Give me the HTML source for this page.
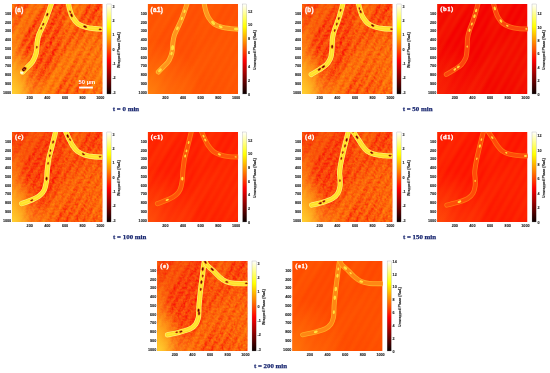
<!DOCTYPE html>
<html lang="en"><head><meta charset="utf-8"><title>Wrapped and unwrapped phase maps</title>
<style>html,body{margin:0;padding:0;background:#fff}body{width:550px;height:373px;overflow:hidden}svg{display:block}.tk{font-family:"Liberation Sans",Arial,sans-serif;font-size:3.7px;fill:#1c1c1c;font-weight:bold;stroke:#1c1c1c;stroke-width:0.1px}.cl{font-family:"Liberation Sans",Arial,sans-serif;font-size:3.4px;fill:#222;font-weight:bold;stroke:#222;stroke-width:0.1px}.ls{font-family:"Liberation Sans",Arial,sans-serif;font-size:6.3px;fill:#fff;font-weight:bold;letter-spacing:0.35px;stroke:#fff;stroke-width:0.3px}.lf{font-family:"Liberation Serif","Times New Roman",serif;font-size:6.6px;fill:#fff;font-weight:bold;stroke:#fff;stroke-width:0.3px;letter-spacing:0.55px}.cap{font-family:"Liberation Serif","Times New Roman",serif;font-size:6.9px;fill:#1c2a72;font-weight:bold;stroke:#1c2a72;stroke-width:0.25px}.sb{font-family:"Liberation Sans",Arial,sans-serif;font-size:5.8px;fill:#fff;font-weight:bold}</style></head><body>
<svg width="550" height="373" viewBox="0 0 550 373">
<defs>
<linearGradient id="hot" x1="0" y1="1" x2="0" y2="0"><stop offset="0" stop-color="#0a0000"/><stop offset="0.375" stop-color="#ff0000"/><stop offset="0.75" stop-color="#ffff00"/><stop offset="1" stop-color="#ffffff"/></linearGradient>
<pattern id="st" width="7.8" height="90" patternUnits="userSpaceOnUse" patternTransform="rotate(30)"><rect x="0" y="0" width="3.6" height="90" fill="#ffa414"/></pattern>
<filter id="bl" x="-10%" y="-10%" width="120%" height="120%"><feGaussianBlur stdDeviation="0.9"/></filter>
<filter id="nz" x="0" y="0" width="100%" height="100%" color-interpolation-filters="sRGB"><feTurbulence type="fractalNoise" baseFrequency="0.42" numOctaves="2" seed="3" result="t"/><feColorMatrix in="t" type="matrix" values="0 0 0 0 0.985  0.66 0 0 0 -0.13  0 0 0 0 0.03  0 0 0 0 1"/></filter>
<filter id="sw" x="0" y="0" width="100%" height="100%" color-interpolation-filters="sRGB"><feTurbulence type="fractalNoise" baseFrequency="0.06 0.012" numOctaves="1" seed="11" result="t"/><feColorMatrix in="t" type="matrix" values="0 0 0 0 1  0 0 0 0 0.66  0 0 0 0 0.05  4 0 0 0 -1.6"/></filter>
<radialGradient id="ga" cx="0" cy="1" r="0.7"><stop offset="0" stop-color="#ffa81c" stop-opacity="1"/><stop offset="0.4" stop-color="#ffa81c" stop-opacity="0.65"/><stop offset="1" stop-color="#ffa81c" stop-opacity="0"/></radialGradient>
<clipPath id="ca"><rect x="0" y="0" width="90.4" height="90.0"/></clipPath>
<radialGradient id="ga1" cx="0" cy="1" r="0.6"><stop offset="0" stop-color="#ff8a10" stop-opacity="0.8"/><stop offset="0.4" stop-color="#ff8a10" stop-opacity="0.4"/><stop offset="1" stop-color="#ff8a10" stop-opacity="0"/></radialGradient>
<clipPath id="ca1"><rect x="0" y="0" width="90.4" height="90.0"/></clipPath>
<radialGradient id="gb" cx="0" cy="1" r="0.7"><stop offset="0" stop-color="#ffa81c" stop-opacity="1"/><stop offset="0.4" stop-color="#ffa81c" stop-opacity="0.65"/><stop offset="1" stop-color="#ffa81c" stop-opacity="0"/></radialGradient>
<clipPath id="cb"><rect x="0" y="0" width="90.4" height="90.0"/></clipPath>
<radialGradient id="gb1" cx="0" cy="1" r="0.6"><stop offset="0" stop-color="#fa2606" stop-opacity="0.8"/><stop offset="0.4" stop-color="#fa2606" stop-opacity="0.4"/><stop offset="1" stop-color="#fa2606" stop-opacity="0"/></radialGradient>
<clipPath id="cb1"><rect x="0" y="0" width="90.4" height="90.0"/></clipPath>
<radialGradient id="gc" cx="0" cy="1" r="0.7"><stop offset="0" stop-color="#ffa81c" stop-opacity="1"/><stop offset="0.4" stop-color="#ffa81c" stop-opacity="0.65"/><stop offset="1" stop-color="#ffa81c" stop-opacity="0"/></radialGradient>
<clipPath id="cc"><rect x="0" y="0" width="90.4" height="90.0"/></clipPath>
<radialGradient id="gc1" cx="0" cy="1" r="0.6"><stop offset="0" stop-color="#ff560c" stop-opacity="0.8"/><stop offset="0.4" stop-color="#ff560c" stop-opacity="0.4"/><stop offset="1" stop-color="#ff560c" stop-opacity="0"/></radialGradient>
<clipPath id="cc1"><rect x="0" y="0" width="90.4" height="90.0"/></clipPath>
<radialGradient id="gd" cx="0" cy="1" r="0.7"><stop offset="0" stop-color="#ffa81c" stop-opacity="1"/><stop offset="0.4" stop-color="#ffa81c" stop-opacity="0.65"/><stop offset="1" stop-color="#ffa81c" stop-opacity="0"/></radialGradient>
<clipPath id="cd"><rect x="0" y="0" width="90.4" height="90.0"/></clipPath>
<radialGradient id="gd1" cx="0" cy="1" r="0.6"><stop offset="0" stop-color="#ff520c" stop-opacity="0.8"/><stop offset="0.4" stop-color="#ff520c" stop-opacity="0.4"/><stop offset="1" stop-color="#ff520c" stop-opacity="0"/></radialGradient>
<clipPath id="cd1"><rect x="0" y="0" width="90.4" height="90.0"/></clipPath>
<radialGradient id="ge" cx="0" cy="1" r="0.7"><stop offset="0" stop-color="#ffa81c" stop-opacity="1"/><stop offset="0.4" stop-color="#ffa81c" stop-opacity="0.65"/><stop offset="1" stop-color="#ffa81c" stop-opacity="0"/></radialGradient>
<clipPath id="ce"><rect x="0" y="0" width="90.4" height="90.0"/></clipPath>
<radialGradient id="ge1" cx="0" cy="1" r="0.6"><stop offset="0" stop-color="#ff7c0c" stop-opacity="0.8"/><stop offset="0.4" stop-color="#ff7c0c" stop-opacity="0.4"/><stop offset="1" stop-color="#ff7c0c" stop-opacity="0"/></radialGradient>
<clipPath id="ce1"><rect x="0" y="0" width="90.4" height="90.0"/></clipPath>
<radialGradient id="le" cx="0" cy="0" r="1" gradientTransform="translate(0 0.88) scale(0.2 0.75)"><stop offset="0" stop-color="#ffcc2a" stop-opacity="0.95"/><stop offset="0.4" stop-color="#ffb21e" stop-opacity="0.6"/><stop offset="1" stop-color="#ff9a14" stop-opacity="0"/></radialGradient>
<radialGradient id="bc" cx="0" cy="1" r="0.44"><stop offset="0" stop-color="#ffd232" stop-opacity="1"/><stop offset="0.45" stop-color="#ffb020" stop-opacity="0.55"/><stop offset="1" stop-color="#ff9a14" stop-opacity="0"/></radialGradient>
<linearGradient id="tl" x1="0" y1="0" x2="0.75" y2="0.75"><stop offset="0" stop-color="#f42c08" stop-opacity="0.5"/><stop offset="0.55" stop-color="#f42c08" stop-opacity="0.18"/><stop offset="1" stop-color="#f42c08" stop-opacity="0"/></linearGradient>
</defs>
<rect width="550" height="373" fill="#ffffff"/>
<g transform="translate(12.0 4.0)">
<g clip-path="url(#ca)">
<rect width="90.4" height="90.0" filter="url(#nz)"/>
<g filter="url(#bl)" opacity="0.54"><rect x="-10" y="-10" width="110.4" height="110.0" fill="url(#st)"/></g>
<g transform="rotate(30 45 45)" opacity="0.51"><rect x="-30" y="-30" width="150" height="150" filter="url(#sw)"/></g>
<rect width="90.4" height="90.0" fill="url(#tl)" opacity="0.35"/>
<rect width="90.4" height="90.0" fill="url(#le)"/>
<rect width="90.4" height="90.0" fill="url(#bc)"/>
<g transform="scale(0.24236 0.24129)" fill="none" stroke-linecap="round" stroke-linejoin="round">
<path d="M164.0 -6.0C162.0 0.0 156.2 18.2 152.0 30.0C147.8 41.8 143.8 53.3 139.0 65.0C134.2 76.7 127.8 89.2 123.0 100.0C118.2 110.8 113.2 120.0 110.0 130.0C106.8 140.0 105.3 150.0 104.0 160.0C102.7 170.0 103.3 180.8 102.0 190.0C100.7 199.2 99.0 206.7 96.0 215.0C93.0 223.3 89.5 232.2 84.0 240.0C78.5 247.8 69.7 255.0 63.0 262.0C56.3 269.0 47.2 278.7 44.0 282.0" stroke="#fff07a" stroke-width="21.5"/>
<path d="M164.0 -6.0C162.0 0.0 156.2 18.2 152.0 30.0C147.8 41.8 143.8 53.3 139.0 65.0C134.2 76.7 127.8 89.2 123.0 100.0C118.2 110.8 113.2 120.0 110.0 130.0C106.8 140.0 105.3 150.0 104.0 160.0C102.7 170.0 103.3 180.8 102.0 190.0C100.7 199.2 99.0 206.7 96.0 215.0C93.0 223.3 89.5 232.2 84.0 240.0C78.5 247.8 69.7 255.0 63.0 262.0C56.3 269.0 47.2 278.7 44.0 282.0" stroke="#ffe022" stroke-width="16.5"/>
<path d="M164.0 -6.0C162.0 0.0 156.2 18.2 152.0 30.0C147.8 41.8 143.8 53.3 139.0 65.0C134.2 76.7 127.8 89.2 123.0 100.0C118.2 110.8 113.2 120.0 110.0 130.0C106.8 140.0 105.3 150.0 104.0 160.0C102.7 170.0 103.3 180.8 102.0 190.0C100.7 199.2 99.0 206.7 96.0 215.0C93.0 223.3 89.5 232.2 84.0 240.0C78.5 247.8 69.7 255.0 63.0 262.0C56.3 269.0 47.2 278.7 44.0 282.0" stroke="#ffea50" stroke-width="6" opacity="0.6"/>
<path d="M232.0 -6.0C233.3 0.0 236.7 19.3 240.0 30.0C243.3 40.7 246.3 49.2 252.0 58.0C257.7 66.8 265.2 76.7 274.0 83.0C282.8 89.3 294.0 92.8 305.0 96.0C316.0 99.2 327.5 100.5 340.0 102.0C352.5 103.5 373.3 104.5 380.0 105.0" stroke="#fff07a" stroke-width="21.5"/>
<path d="M232.0 -6.0C233.3 0.0 236.7 19.3 240.0 30.0C243.3 40.7 246.3 49.2 252.0 58.0C257.7 66.8 265.2 76.7 274.0 83.0C282.8 89.3 294.0 92.8 305.0 96.0C316.0 99.2 327.5 100.5 340.0 102.0C352.5 103.5 373.3 104.5 380.0 105.0" stroke="#ffe022" stroke-width="16.5"/>
<path d="M232.0 -6.0C233.3 0.0 236.7 19.3 240.0 30.0C243.3 40.7 246.3 49.2 252.0 58.0C257.7 66.8 265.2 76.7 274.0 83.0C282.8 89.3 294.0 92.8 305.0 96.0C316.0 99.2 327.5 100.5 340.0 102.0C352.5 103.5 373.3 104.5 380.0 105.0" stroke="#ffea50" stroke-width="6" opacity="0.6"/>
<ellipse cx="145.7" cy="43.8" rx="6.2" ry="3.1" transform="rotate(110 145.7 43.8)" fill="#3a0404" stroke="#d8240a" stroke-width="2"/>
<ellipse cx="128.9" cy="83.6" rx="5.3" ry="2.7" transform="rotate(115 128.9 83.6)" fill="#3a0404" stroke="#d8240a" stroke-width="2"/>
<ellipse cx="120.9" cy="100.9" rx="4.3" ry="2.1" transform="rotate(113 120.9 100.9)" fill="#3a0404" stroke="#d8240a" stroke-width="2"/>
<ellipse cx="102.4" cy="178.7" rx="4.5" ry="2.2" transform="rotate(94 102.4 178.7)" fill="#3a0404" stroke="#d8240a" stroke-width="2"/>
<ellipse cx="240.1" cy="32.1" rx="4.6" ry="2.3" transform="rotate(67 240.1 32.1)" fill="#3a0404" stroke="#d8240a" stroke-width="2"/>
<ellipse cx="245.9" cy="46.8" rx="7.2" ry="3.6" transform="rotate(67 245.9 46.8)" fill="#3a0404" stroke="#d8240a" stroke-width="2"/>
<ellipse cx="301.5" cy="94.0" rx="7.3" ry="3.6" transform="rotate(23 301.5 94.0)" fill="#3a0404" stroke="#d8240a" stroke-width="2"/>
<ellipse cx="363.5" cy="105.3" rx="5.1" ry="2.5" transform="rotate(4 363.5 105.3)" fill="#3a0404" stroke="#d8240a" stroke-width="2"/>
<ellipse cx="50" cy="270" rx="10" ry="7" transform="rotate(-45 50 270)" fill="#2a0303" stroke="#e0300c" stroke-width="2.5"/>
<ellipse cx="50" cy="270" rx="4" ry="3" fill="#ff5a10"/>
<ellipse cx="41" cy="285" rx="7" ry="5" fill="#fffbe0"/>
</g>
</g>
<text class="ls" x="2.9" y="7.5">(a)</text>
<rect x="67.1" y="82.6" width="13.8" height="1.9" fill="#fff"/>
<text class="sb" x="74.9" y="79.7" text-anchor="middle">50 µm</text>
<text class="tk" x="-0.9" y="10.7" text-anchor="end">100</text>
<text class="tk" x="-0.9" y="19.5" text-anchor="end">200</text>
<text class="tk" x="-0.9" y="28.3" text-anchor="end">300</text>
<text class="tk" x="-0.9" y="37.1" text-anchor="end">400</text>
<text class="tk" x="-0.9" y="45.8" text-anchor="end">500</text>
<text class="tk" x="-0.9" y="54.6" text-anchor="end">600</text>
<text class="tk" x="-0.9" y="63.4" text-anchor="end">700</text>
<text class="tk" x="-0.9" y="72.2" text-anchor="end">800</text>
<text class="tk" x="-0.9" y="81.0" text-anchor="end">900</text>
<text class="tk" x="-0.9" y="89.8" text-anchor="end">1000</text>
<text class="tk" x="17.7" y="95.0" text-anchor="middle">200</text>
<text class="tk" x="35.3" y="95.0" text-anchor="middle">400</text>
<text class="tk" x="53.0" y="95.0" text-anchor="middle">600</text>
<text class="tk" x="70.6" y="95.0" text-anchor="middle">800</text>
<text class="tk" x="88.3" y="95.0" text-anchor="middle">1000</text>
<rect x="94.9" y="0" width="4.2" height="90.0" fill="url(#hot)" stroke="#8a8a8a" stroke-width="0.25"/>
<text class="tk" x="100.4" y="89.6">-3</text>
<text class="tk" x="100.4" y="75.2">-2</text>
<text class="tk" x="100.4" y="60.9">-1</text>
<text class="tk" x="100.4" y="46.6">0</text>
<text class="tk" x="100.4" y="32.3">1</text>
<text class="tk" x="100.4" y="18.0">2</text>
<text class="tk" x="100.4" y="3.6">3</text>
<text class="cl" transform="translate(108.3 46.0) rotate(-90)" text-anchor="middle">Wrapped Phase (Rad.)</text>
</g>
<g transform="translate(147.7 4.0)">
<g clip-path="url(#ca1)">
<rect width="90.4" height="90.0" fill="#ff4e04"/>
<g filter="url(#bl)" opacity="0.07"><rect x="-10" y="-10" width="110.4" height="110.0" fill="url(#st)"/></g>
<g transform="rotate(30 45 45)" opacity="0.09"><rect x="-30" y="-30" width="150" height="150" filter="url(#sw)"/></g>
<rect width="90.4" height="90.0" fill="url(#ga1)"/>
<g transform="scale(0.24236 0.24129)" fill="none" stroke-linecap="round" stroke-linejoin="round">
<path d="M164.0 -6.0C162.0 0.0 156.2 18.2 152.0 30.0C147.8 41.8 143.8 53.3 139.0 65.0C134.2 76.7 127.8 89.2 123.0 100.0C118.2 110.8 113.2 120.0 110.0 130.0C106.8 140.0 105.3 150.0 104.0 160.0C102.7 170.0 103.3 180.8 102.0 190.0C100.7 199.2 99.0 206.7 96.0 215.0C93.0 223.3 89.5 232.2 84.0 240.0C78.5 247.8 69.7 255.0 63.0 262.0C56.3 269.0 47.2 278.7 44.0 282.0" stroke="#ffc033" stroke-width="20.5" opacity="0.95"/>
<path d="M164.0 -6.0C162.0 0.0 156.2 18.2 152.0 30.0C147.8 41.8 143.8 53.3 139.0 65.0C134.2 76.7 127.8 89.2 123.0 100.0C118.2 110.8 113.2 120.0 110.0 130.0C106.8 140.0 105.3 150.0 104.0 160.0C102.7 170.0 103.3 180.8 102.0 190.0C100.7 199.2 99.0 206.7 96.0 215.0C93.0 223.3 89.5 232.2 84.0 240.0C78.5 247.8 69.7 255.0 63.0 262.0C56.3 269.0 47.2 278.7 44.0 282.0" stroke="#ff951d" stroke-width="14"/>
<path d="M232.0 -6.0C233.3 0.0 236.7 19.3 240.0 30.0C243.3 40.7 246.3 49.2 252.0 58.0C257.7 66.8 265.2 76.7 274.0 83.0C282.8 89.3 294.0 92.8 305.0 96.0C316.0 99.2 327.5 100.5 340.0 102.0C352.5 103.5 373.3 104.5 380.0 105.0" stroke="#ffc033" stroke-width="20.5" opacity="0.95"/>
<path d="M232.0 -6.0C233.3 0.0 236.7 19.3 240.0 30.0C243.3 40.7 246.3 49.2 252.0 58.0C257.7 66.8 265.2 76.7 274.0 83.0C282.8 89.3 294.0 92.8 305.0 96.0C316.0 99.2 327.5 100.5 340.0 102.0C352.5 103.5 373.3 104.5 380.0 105.0" stroke="#ff951d" stroke-width="14"/>
<ellipse cx="151.9" cy="30.3" rx="7.3" ry="4.3" transform="rotate(110 151.9 30.3)" fill="#ffe640" opacity="0.95"/>
<ellipse cx="140.8" cy="60.1" rx="7.2" ry="4.2" transform="rotate(110 140.8 60.1)" fill="#ffe640" opacity="0.95"/>
<ellipse cx="122.6" cy="100.8" rx="8.2" ry="4.8" transform="rotate(113 122.6 100.8)" fill="#ffe640" opacity="0.95"/>
<ellipse cx="102.6" cy="180.4" rx="11.0" ry="6.4" transform="rotate(94 102.6 180.4)" fill="#ffe640" opacity="0.95"/>
<ellipse cx="98.3" cy="205.4" rx="7.5" ry="4.4" transform="rotate(103 98.3 205.4)" fill="#ffe640" opacity="0.95"/>
<ellipse cx="50.6" cy="275.1" rx="9.7" ry="5.7" transform="rotate(134 50.6 275.1)" fill="#ffe640" opacity="0.95"/>
<ellipse cx="269.9" cy="78.3" rx="10.0" ry="5.9" transform="rotate(49 269.9 78.3)" fill="#ffe640" opacity="0.95"/>
<ellipse cx="301.2" cy="94.4" rx="8.5" ry="5.0" transform="rotate(23 301.2 94.4)" fill="#ffe640" opacity="0.95"/>
<ellipse cx="365.3" cy="103.9" rx="9.5" ry="5.6" transform="rotate(4 365.3 103.9)" fill="#ffe640" opacity="0.95"/>
</g>
</g>
<text class="ls" x="2.9" y="7.5">(a1)</text>
<text class="tk" x="-0.9" y="10.7" text-anchor="end">100</text>
<text class="tk" x="-0.9" y="19.5" text-anchor="end">200</text>
<text class="tk" x="-0.9" y="28.3" text-anchor="end">300</text>
<text class="tk" x="-0.9" y="37.1" text-anchor="end">400</text>
<text class="tk" x="-0.9" y="45.8" text-anchor="end">500</text>
<text class="tk" x="-0.9" y="54.6" text-anchor="end">600</text>
<text class="tk" x="-0.9" y="63.4" text-anchor="end">700</text>
<text class="tk" x="-0.9" y="72.2" text-anchor="end">800</text>
<text class="tk" x="-0.9" y="81.0" text-anchor="end">900</text>
<text class="tk" x="-0.9" y="89.8" text-anchor="end">1000</text>
<text class="tk" x="17.7" y="95.0" text-anchor="middle">200</text>
<text class="tk" x="35.3" y="95.0" text-anchor="middle">400</text>
<text class="tk" x="53.0" y="95.0" text-anchor="middle">600</text>
<text class="tk" x="70.6" y="95.0" text-anchor="middle">800</text>
<text class="tk" x="88.3" y="95.0" text-anchor="middle">1000</text>
<rect x="94.9" y="0" width="4.2" height="90.0" fill="url(#hot)" stroke="#8a8a8a" stroke-width="0.25"/>
<text class="tk" x="100.4" y="91.6">0</text>
<text class="tk" x="100.4" y="77.8">2</text>
<text class="tk" x="100.4" y="63.9">4</text>
<text class="tk" x="100.4" y="50.1">6</text>
<text class="tk" x="100.4" y="36.2">8</text>
<text class="tk" x="100.4" y="22.4">10</text>
<text class="tk" x="100.4" y="8.5">12</text>
<text class="cl" transform="translate(108.3 46.0) rotate(-90)" text-anchor="middle">Unwrapped Phase (Rad.)</text>
</g>
<g transform="translate(302.0 4.0)">
<g clip-path="url(#cb)">
<rect width="90.4" height="90.0" filter="url(#nz)"/>
<g filter="url(#bl)" opacity="0.46"><rect x="-10" y="-10" width="110.4" height="110.0" fill="url(#st)"/></g>
<g transform="rotate(30 45 45)" opacity="0.44"><rect x="-30" y="-30" width="150" height="150" filter="url(#sw)"/></g>
<rect width="90.4" height="90.0" fill="url(#tl)" opacity="0.75"/>
<rect width="90.4" height="90.0" fill="url(#le)"/>
<rect width="90.4" height="90.0" fill="url(#bc)"/>
<g transform="scale(0.24236 0.24129)" fill="none" stroke-linecap="round" stroke-linejoin="round">
<path d="M170.0 -6.0C168.2 0.8 162.7 22.3 159.0 35.0C155.3 47.7 152.0 58.3 148.0 70.0C144.0 81.7 138.7 93.3 135.0 105.0C131.3 116.7 127.8 127.8 126.0 140.0C124.2 152.2 124.7 167.2 124.0 178.0C123.3 188.8 123.2 197.0 122.0 205.0C120.8 213.0 120.7 218.2 117.0 226.0C113.3 233.8 107.3 244.5 100.0 252.0C92.7 259.5 83.3 264.3 73.0 271.0C62.7 277.7 43.8 288.5 38.0 292.0" stroke="#fff07a" stroke-width="21.5"/>
<path d="M170.0 -6.0C168.2 0.8 162.7 22.3 159.0 35.0C155.3 47.7 152.0 58.3 148.0 70.0C144.0 81.7 138.7 93.3 135.0 105.0C131.3 116.7 127.8 127.8 126.0 140.0C124.2 152.2 124.7 167.2 124.0 178.0C123.3 188.8 123.2 197.0 122.0 205.0C120.8 213.0 120.7 218.2 117.0 226.0C113.3 233.8 107.3 244.5 100.0 252.0C92.7 259.5 83.3 264.3 73.0 271.0C62.7 277.7 43.8 288.5 38.0 292.0" stroke="#ffe022" stroke-width="16.5"/>
<path d="M170.0 -6.0C168.2 0.8 162.7 22.3 159.0 35.0C155.3 47.7 152.0 58.3 148.0 70.0C144.0 81.7 138.7 93.3 135.0 105.0C131.3 116.7 127.8 127.8 126.0 140.0C124.2 152.2 124.7 167.2 124.0 178.0C123.3 188.8 123.2 197.0 122.0 205.0C120.8 213.0 120.7 218.2 117.0 226.0C113.3 233.8 107.3 244.5 100.0 252.0C92.7 259.5 83.3 264.3 73.0 271.0C62.7 277.7 43.8 288.5 38.0 292.0" stroke="#ffea50" stroke-width="6" opacity="0.6"/>
<path d="M232.0 -6.0C233.5 0.0 237.7 19.7 241.0 30.0C244.3 40.3 247.0 47.7 252.0 56.0C257.0 64.3 263.0 73.5 271.0 80.0C279.0 86.5 289.3 91.3 300.0 95.0C310.7 98.7 321.7 100.5 335.0 102.0C348.3 103.5 372.5 103.7 380.0 104.0" stroke="#fff07a" stroke-width="21.5"/>
<path d="M232.0 -6.0C233.5 0.0 237.7 19.7 241.0 30.0C244.3 40.3 247.0 47.7 252.0 56.0C257.0 64.3 263.0 73.5 271.0 80.0C279.0 86.5 289.3 91.3 300.0 95.0C310.7 98.7 321.7 100.5 335.0 102.0C348.3 103.5 372.5 103.7 380.0 104.0" stroke="#ffe022" stroke-width="16.5"/>
<path d="M232.0 -6.0C233.5 0.0 237.7 19.7 241.0 30.0C244.3 40.3 247.0 47.7 252.0 56.0C257.0 64.3 263.0 73.5 271.0 80.0C279.0 86.5 289.3 91.3 300.0 95.0C310.7 98.7 321.7 100.5 335.0 102.0C348.3 103.5 372.5 103.7 380.0 104.0" stroke="#ffea50" stroke-width="6" opacity="0.6"/>
<ellipse cx="159.3" cy="25.5" rx="4.8" ry="2.4" transform="rotate(105 159.3 25.5)" fill="#3a0404" stroke="#d8240a" stroke-width="2"/>
<ellipse cx="151.8" cy="59.9" rx="5.2" ry="2.6" transform="rotate(107 151.8 59.9)" fill="#3a0404" stroke="#d8240a" stroke-width="2"/>
<ellipse cx="143.5" cy="82.8" rx="5.1" ry="2.6" transform="rotate(110 143.5 82.8)" fill="#3a0404" stroke="#d8240a" stroke-width="2"/>
<ellipse cx="135.2" cy="109.7" rx="4.9" ry="2.5" transform="rotate(104 135.2 109.7)" fill="#3a0404" stroke="#d8240a" stroke-width="2"/>
<ellipse cx="124.4" cy="176.8" rx="7.0" ry="3.5" transform="rotate(93 124.4 176.8)" fill="#3a0404" stroke="#d8240a" stroke-width="2"/>
<ellipse cx="88.4" cy="260.0" rx="7.3" ry="3.6" transform="rotate(145 88.4 260.0)" fill="#3a0404" stroke="#d8240a" stroke-width="2"/>
<ellipse cx="71.9" cy="270.4" rx="6.6" ry="3.3" transform="rotate(145 71.9 270.4)" fill="#3a0404" stroke="#d8240a" stroke-width="2"/>
<ellipse cx="236.7" cy="18.3" rx="4.3" ry="2.1" transform="rotate(76 236.7 18.3)" fill="#3a0404" stroke="#d8240a" stroke-width="2"/>
<ellipse cx="241.9" cy="31.6" rx="6.0" ry="3.0" transform="rotate(67 241.9 31.6)" fill="#3a0404" stroke="#d8240a" stroke-width="2"/>
<ellipse cx="291.4" cy="89.0" rx="6.4" ry="3.2" transform="rotate(27 291.4 89.0)" fill="#3a0404" stroke="#d8240a" stroke-width="2"/>
<ellipse cx="369.9" cy="103.9" rx="5.6" ry="2.8" transform="rotate(3 369.9 103.9)" fill="#3a0404" stroke="#d8240a" stroke-width="2"/>
</g>
</g>
<text class="ls" x="2.9" y="7.5">(b)</text>
<text class="tk" x="-0.9" y="10.7" text-anchor="end">100</text>
<text class="tk" x="-0.9" y="19.5" text-anchor="end">200</text>
<text class="tk" x="-0.9" y="28.3" text-anchor="end">300</text>
<text class="tk" x="-0.9" y="37.1" text-anchor="end">400</text>
<text class="tk" x="-0.9" y="45.8" text-anchor="end">500</text>
<text class="tk" x="-0.9" y="54.6" text-anchor="end">600</text>
<text class="tk" x="-0.9" y="63.4" text-anchor="end">700</text>
<text class="tk" x="-0.9" y="72.2" text-anchor="end">800</text>
<text class="tk" x="-0.9" y="81.0" text-anchor="end">900</text>
<text class="tk" x="-0.9" y="89.8" text-anchor="end">1000</text>
<text class="tk" x="17.7" y="95.0" text-anchor="middle">200</text>
<text class="tk" x="35.3" y="95.0" text-anchor="middle">400</text>
<text class="tk" x="53.0" y="95.0" text-anchor="middle">600</text>
<text class="tk" x="70.6" y="95.0" text-anchor="middle">800</text>
<text class="tk" x="88.3" y="95.0" text-anchor="middle">1000</text>
<rect x="94.9" y="0" width="4.2" height="90.0" fill="url(#hot)" stroke="#8a8a8a" stroke-width="0.25"/>
<text class="tk" x="100.4" y="89.6">-3</text>
<text class="tk" x="100.4" y="75.2">-2</text>
<text class="tk" x="100.4" y="60.9">-1</text>
<text class="tk" x="100.4" y="46.6">0</text>
<text class="tk" x="100.4" y="32.3">1</text>
<text class="tk" x="100.4" y="18.0">2</text>
<text class="tk" x="100.4" y="3.6">3</text>
<text class="cl" transform="translate(108.3 46.0) rotate(-90)" text-anchor="middle">Wrapped Phase (Rad.)</text>
</g>
<g transform="translate(437.1 4.0)">
<g clip-path="url(#cb1)">
<rect width="90.4" height="90.0" fill="#f40202"/>
<g filter="url(#bl)" opacity="0.07"><rect x="-10" y="-10" width="110.4" height="110.0" fill="url(#st)"/></g>
<g transform="rotate(30 45 45)" opacity="0.09"><rect x="-30" y="-30" width="150" height="150" filter="url(#sw)"/></g>
<rect width="90.4" height="90.0" fill="url(#gb1)"/>
<g transform="scale(0.24236 0.24129)" fill="none" stroke-linecap="round" stroke-linejoin="round">
<path d="M170.0 -6.0C168.2 0.8 162.7 22.3 159.0 35.0C155.3 47.7 152.0 58.3 148.0 70.0C144.0 81.7 138.7 93.3 135.0 105.0C131.3 116.7 127.8 127.8 126.0 140.0C124.2 152.2 124.7 167.2 124.0 178.0C123.3 188.8 123.2 197.0 122.0 205.0C120.8 213.0 120.7 218.2 117.0 226.0C113.3 233.8 107.3 244.5 100.0 252.0C92.7 259.5 83.3 264.3 73.0 271.0C62.7 277.7 43.8 288.5 38.0 292.0" stroke="#ff7517" stroke-width="20.5" opacity="0.95"/>
<path d="M170.0 -6.0C168.2 0.8 162.7 22.3 159.0 35.0C155.3 47.7 152.0 58.3 148.0 70.0C144.0 81.7 138.7 93.3 135.0 105.0C131.3 116.7 127.8 127.8 126.0 140.0C124.2 152.2 124.7 167.2 124.0 178.0C123.3 188.8 123.2 197.0 122.0 205.0C120.8 213.0 120.7 218.2 117.0 226.0C113.3 233.8 107.3 244.5 100.0 252.0C92.7 259.5 83.3 264.3 73.0 271.0C62.7 277.7 43.8 288.5 38.0 292.0" stroke="#fc450d" stroke-width="14"/>
<path d="M232.0 -6.0C233.5 0.0 237.7 19.7 241.0 30.0C244.3 40.3 247.0 47.7 252.0 56.0C257.0 64.3 263.0 73.5 271.0 80.0C279.0 86.5 289.3 91.3 300.0 95.0C310.7 98.7 321.7 100.5 335.0 102.0C348.3 103.5 372.5 103.7 380.0 104.0" stroke="#ff7517" stroke-width="20.5" opacity="0.95"/>
<path d="M232.0 -6.0C233.5 0.0 237.7 19.7 241.0 30.0C244.3 40.3 247.0 47.7 252.0 56.0C257.0 64.3 263.0 73.5 271.0 80.0C279.0 86.5 289.3 91.3 300.0 95.0C310.7 98.7 321.7 100.5 335.0 102.0C348.3 103.5 372.5 103.7 380.0 104.0" stroke="#fc450d" stroke-width="14"/>
<ellipse cx="161.1" cy="27.2" rx="7.6" ry="4.5" transform="rotate(105 161.1 27.2)" fill="#ffe640" opacity="0.95"/>
<ellipse cx="154.2" cy="50.3" rx="8.0" ry="4.7" transform="rotate(107 154.2 50.3)" fill="#ffe640" opacity="0.95"/>
<ellipse cx="143.2" cy="82.9" rx="6.3" ry="3.7" transform="rotate(110 143.2 82.9)" fill="#ffe640" opacity="0.95"/>
<ellipse cx="134.0" cy="108.9" rx="7.0" ry="4.1" transform="rotate(104 134.0 108.9)" fill="#ffe640" opacity="0.95"/>
<ellipse cx="124.1" cy="176.7" rx="4.7" ry="2.8" transform="rotate(93 124.1 176.7)" fill="#ffe640" opacity="0.95"/>
<ellipse cx="87.5" cy="260.8" rx="7.1" ry="4.2" transform="rotate(145 87.5 260.8)" fill="#ffe640" opacity="0.95"/>
<ellipse cx="73.4" cy="270.7" rx="6.9" ry="4.1" transform="rotate(145 73.4 270.7)" fill="#ffe640" opacity="0.95"/>
<ellipse cx="238.1" cy="18.4" rx="8.2" ry="4.8" transform="rotate(76 238.1 18.4)" fill="#ffe640" opacity="0.95"/>
<ellipse cx="263.4" cy="70.4" rx="7.6" ry="4.4" transform="rotate(52 263.4 70.4)" fill="#ffe640" opacity="0.95"/>
<ellipse cx="289.9" cy="89.8" rx="5.6" ry="3.3" transform="rotate(27 289.9 89.8)" fill="#ffe640" opacity="0.95"/>
<ellipse cx="369.5" cy="103.5" rx="5.9" ry="3.5" transform="rotate(3 369.5 103.5)" fill="#ffe640" opacity="0.95"/>
</g>
</g>
<text class="lf" x="3.1" y="7.3">(b1)</text>
<text class="tk" x="-0.9" y="10.7" text-anchor="end">100</text>
<text class="tk" x="-0.9" y="19.5" text-anchor="end">200</text>
<text class="tk" x="-0.9" y="28.3" text-anchor="end">300</text>
<text class="tk" x="-0.9" y="37.1" text-anchor="end">400</text>
<text class="tk" x="-0.9" y="45.8" text-anchor="end">500</text>
<text class="tk" x="-0.9" y="54.6" text-anchor="end">600</text>
<text class="tk" x="-0.9" y="63.4" text-anchor="end">700</text>
<text class="tk" x="-0.9" y="72.2" text-anchor="end">800</text>
<text class="tk" x="-0.9" y="81.0" text-anchor="end">900</text>
<text class="tk" x="-0.9" y="89.8" text-anchor="end">1000</text>
<text class="tk" x="17.7" y="95.0" text-anchor="middle">200</text>
<text class="tk" x="35.3" y="95.0" text-anchor="middle">400</text>
<text class="tk" x="53.0" y="95.0" text-anchor="middle">600</text>
<text class="tk" x="70.6" y="95.0" text-anchor="middle">800</text>
<text class="tk" x="88.3" y="95.0" text-anchor="middle">1000</text>
<rect x="94.9" y="0" width="4.2" height="90.0" fill="url(#hot)" stroke="#8a8a8a" stroke-width="0.25"/>
<text class="tk" x="100.4" y="91.6">0</text>
<text class="tk" x="100.4" y="78.2">2</text>
<text class="tk" x="100.4" y="64.8">4</text>
<text class="tk" x="100.4" y="51.4">6</text>
<text class="tk" x="100.4" y="38.0">8</text>
<text class="tk" x="100.4" y="24.6">10</text>
<text class="tk" x="100.4" y="11.2">12</text>
<text class="cl" transform="translate(108.3 46.0) rotate(-90)" text-anchor="middle">Unwrapped Phase (Rad.)</text>
</g>
<g transform="translate(12.0 132.0)">
<g clip-path="url(#cc)">
<rect width="90.4" height="90.0" filter="url(#nz)"/>
<g filter="url(#bl)" opacity="0.40"><rect x="-10" y="-10" width="110.4" height="110.0" fill="url(#st)"/></g>
<g transform="rotate(30 45 45)" opacity="0.38"><rect x="-30" y="-30" width="150" height="150" filter="url(#sw)"/></g>
<rect width="90.4" height="90.0" fill="url(#tl)" opacity="1"/>
<rect width="90.4" height="90.0" fill="url(#le)"/>
<rect width="90.4" height="90.0" fill="url(#bc)"/>
<g transform="scale(0.24236 0.24129)" fill="none" stroke-linecap="round" stroke-linejoin="round">
<path d="M181.0 -6.0C179.3 0.8 174.3 21.5 171.0 35.0C167.7 48.5 164.2 62.5 161.0 75.0C157.8 87.5 154.3 98.3 152.0 110.0C149.7 121.7 148.2 135.8 147.0 145.0C145.8 154.2 145.8 155.2 145.0 165.0C144.2 174.8 143.8 191.8 142.0 204.0C140.2 216.2 138.2 228.5 134.0 238.0C129.8 247.5 124.8 254.2 117.0 261.0C109.2 267.8 99.8 273.0 87.0 279.0C74.2 285.0 47.8 294.0 40.0 297.0" stroke="#fff07a" stroke-width="21.5"/>
<path d="M181.0 -6.0C179.3 0.8 174.3 21.5 171.0 35.0C167.7 48.5 164.2 62.5 161.0 75.0C157.8 87.5 154.3 98.3 152.0 110.0C149.7 121.7 148.2 135.8 147.0 145.0C145.8 154.2 145.8 155.2 145.0 165.0C144.2 174.8 143.8 191.8 142.0 204.0C140.2 216.2 138.2 228.5 134.0 238.0C129.8 247.5 124.8 254.2 117.0 261.0C109.2 267.8 99.8 273.0 87.0 279.0C74.2 285.0 47.8 294.0 40.0 297.0" stroke="#ffe022" stroke-width="16.5"/>
<path d="M181.0 -6.0C179.3 0.8 174.3 21.5 171.0 35.0C167.7 48.5 164.2 62.5 161.0 75.0C157.8 87.5 154.3 98.3 152.0 110.0C149.7 121.7 148.2 135.8 147.0 145.0C145.8 154.2 145.8 155.2 145.0 165.0C144.2 174.8 143.8 191.8 142.0 204.0C140.2 216.2 138.2 228.5 134.0 238.0C129.8 247.5 124.8 254.2 117.0 261.0C109.2 267.8 99.8 273.0 87.0 279.0C74.2 285.0 47.8 294.0 40.0 297.0" stroke="#ffea50" stroke-width="6" opacity="0.6"/>
<path d="M220.0 -6.0C222.7 0.0 231.0 19.7 236.0 30.0C241.0 40.3 244.3 47.7 250.0 56.0C255.7 64.3 261.7 73.5 270.0 80.0C278.3 86.5 289.2 91.3 300.0 95.0C310.8 98.7 321.7 100.5 335.0 102.0C348.3 103.5 372.5 103.7 380.0 104.0" stroke="#fff07a" stroke-width="21.5"/>
<path d="M220.0 -6.0C222.7 0.0 231.0 19.7 236.0 30.0C241.0 40.3 244.3 47.7 250.0 56.0C255.7 64.3 261.7 73.5 270.0 80.0C278.3 86.5 289.2 91.3 300.0 95.0C310.8 98.7 321.7 100.5 335.0 102.0C348.3 103.5 372.5 103.7 380.0 104.0" stroke="#ffe022" stroke-width="16.5"/>
<path d="M220.0 -6.0C222.7 0.0 231.0 19.7 236.0 30.0C241.0 40.3 244.3 47.7 250.0 56.0C255.7 64.3 261.7 73.5 270.0 80.0C278.3 86.5 289.2 91.3 300.0 95.0C310.8 98.7 321.7 100.5 335.0 102.0C348.3 103.5 372.5 103.7 380.0 104.0" stroke="#ffea50" stroke-width="6" opacity="0.6"/>
<ellipse cx="169.6" cy="41.4" rx="5.6" ry="2.8" transform="rotate(104 169.6 41.4)" fill="#3a0404" stroke="#d8240a" stroke-width="2"/>
<ellipse cx="158.8" cy="77.0" rx="4.3" ry="2.2" transform="rotate(104 158.8 77.0)" fill="#3a0404" stroke="#d8240a" stroke-width="2"/>
<ellipse cx="155.7" cy="98.2" rx="5.0" ry="2.5" transform="rotate(104 155.7 98.2)" fill="#3a0404" stroke="#d8240a" stroke-width="2"/>
<ellipse cx="149.0" cy="129.7" rx="4.4" ry="2.2" transform="rotate(98 149.0 129.7)" fill="#3a0404" stroke="#d8240a" stroke-width="2"/>
<ellipse cx="142.6" cy="193.4" rx="7.0" ry="3.5" transform="rotate(94 142.6 193.4)" fill="#3a0404" stroke="#d8240a" stroke-width="2"/>
<ellipse cx="82.0" cy="282.9" rx="5.1" ry="2.5" transform="rotate(159 82.0 282.9)" fill="#3a0404" stroke="#d8240a" stroke-width="2"/>
<ellipse cx="230.1" cy="17.0" rx="7.0" ry="3.5" transform="rotate(66 230.1 17.0)" fill="#3a0404" stroke="#d8240a" stroke-width="2"/>
<ellipse cx="239.5" cy="31.7" rx="4.7" ry="2.4" transform="rotate(62 239.5 31.7)" fill="#3a0404" stroke="#d8240a" stroke-width="2"/>
<ellipse cx="294.4" cy="91.7" rx="5.7" ry="2.9" transform="rotate(27 294.4 91.7)" fill="#3a0404" stroke="#d8240a" stroke-width="2"/>
<ellipse cx="363.2" cy="102.3" rx="4.2" ry="2.1" transform="rotate(3 363.2 102.3)" fill="#3a0404" stroke="#d8240a" stroke-width="2"/>
</g>
</g>
<text class="lf" x="3.1" y="7.3">(c)</text>
<text class="tk" x="-0.9" y="10.7" text-anchor="end">100</text>
<text class="tk" x="-0.9" y="19.5" text-anchor="end">200</text>
<text class="tk" x="-0.9" y="28.3" text-anchor="end">300</text>
<text class="tk" x="-0.9" y="37.1" text-anchor="end">400</text>
<text class="tk" x="-0.9" y="45.8" text-anchor="end">500</text>
<text class="tk" x="-0.9" y="54.6" text-anchor="end">600</text>
<text class="tk" x="-0.9" y="63.4" text-anchor="end">700</text>
<text class="tk" x="-0.9" y="72.2" text-anchor="end">800</text>
<text class="tk" x="-0.9" y="81.0" text-anchor="end">900</text>
<text class="tk" x="-0.9" y="89.8" text-anchor="end">1000</text>
<text class="tk" x="17.7" y="95.0" text-anchor="middle">200</text>
<text class="tk" x="35.3" y="95.0" text-anchor="middle">400</text>
<text class="tk" x="53.0" y="95.0" text-anchor="middle">600</text>
<text class="tk" x="70.6" y="95.0" text-anchor="middle">800</text>
<text class="tk" x="88.3" y="95.0" text-anchor="middle">1000</text>
<rect x="94.9" y="0" width="4.2" height="90.0" fill="url(#hot)" stroke="#8a8a8a" stroke-width="0.25"/>
<text class="tk" x="100.4" y="89.6">-3</text>
<text class="tk" x="100.4" y="75.2">-2</text>
<text class="tk" x="100.4" y="60.9">-1</text>
<text class="tk" x="100.4" y="46.6">0</text>
<text class="tk" x="100.4" y="32.3">1</text>
<text class="tk" x="100.4" y="18.0">2</text>
<text class="tk" x="100.4" y="3.6">3</text>
<text class="cl" transform="translate(108.3 46.0) rotate(-90)" text-anchor="middle">Wrapped Phase (Rad.)</text>
</g>
<g transform="translate(147.7 132.0)">
<g clip-path="url(#cc1)">
<rect width="90.4" height="90.0" fill="#ff1c02"/>
<g filter="url(#bl)" opacity="0.07"><rect x="-10" y="-10" width="110.4" height="110.0" fill="url(#st)"/></g>
<g transform="rotate(30 45 45)" opacity="0.09"><rect x="-30" y="-30" width="150" height="150" filter="url(#sw)"/></g>
<rect width="90.4" height="90.0" fill="url(#gc1)"/>
<g transform="scale(0.24236 0.24129)" fill="none" stroke-linecap="round" stroke-linejoin="round">
<path d="M181.0 -6.0C179.3 0.8 174.3 21.5 171.0 35.0C167.7 48.5 164.2 62.5 161.0 75.0C157.8 87.5 154.3 98.3 152.0 110.0C149.7 121.7 148.2 135.8 147.0 145.0C145.8 154.2 145.8 155.2 145.0 165.0C144.2 174.8 143.8 191.8 142.0 204.0C140.2 216.2 138.2 228.5 134.0 238.0C129.8 247.5 124.8 254.2 117.0 261.0C109.2 267.8 99.8 273.0 87.0 279.0C74.2 285.0 47.8 294.0 40.0 297.0" stroke="#ff8013" stroke-width="20.5" opacity="0.95"/>
<path d="M181.0 -6.0C179.3 0.8 174.3 21.5 171.0 35.0C167.7 48.5 164.2 62.5 161.0 75.0C157.8 87.5 154.3 98.3 152.0 110.0C149.7 121.7 148.2 135.8 147.0 145.0C145.8 154.2 145.8 155.2 145.0 165.0C144.2 174.8 143.8 191.8 142.0 204.0C140.2 216.2 138.2 228.5 134.0 238.0C129.8 247.5 124.8 254.2 117.0 261.0C109.2 267.8 99.8 273.0 87.0 279.0C74.2 285.0 47.8 294.0 40.0 297.0" stroke="#ff5409" stroke-width="14"/>
<path d="M220.0 -6.0C222.7 0.0 231.0 19.7 236.0 30.0C241.0 40.3 244.3 47.7 250.0 56.0C255.7 64.3 261.7 73.5 270.0 80.0C278.3 86.5 289.2 91.3 300.0 95.0C310.8 98.7 321.7 100.5 335.0 102.0C348.3 103.5 372.5 103.7 380.0 104.0" stroke="#ff8013" stroke-width="20.5" opacity="0.95"/>
<path d="M220.0 -6.0C222.7 0.0 231.0 19.7 236.0 30.0C241.0 40.3 244.3 47.7 250.0 56.0C255.7 64.3 261.7 73.5 270.0 80.0C278.3 86.5 289.2 91.3 300.0 95.0C310.8 98.7 321.7 100.5 335.0 102.0C348.3 103.5 372.5 103.7 380.0 104.0" stroke="#ff5409" stroke-width="14"/>
<ellipse cx="168.9" cy="43.4" rx="6.1" ry="3.6" transform="rotate(104 168.9 43.4)" fill="#ffe640" opacity="0.95"/>
<ellipse cx="160.1" cy="78.6" rx="5.9" ry="3.5" transform="rotate(104 160.1 78.6)" fill="#ffe640" opacity="0.95"/>
<ellipse cx="154.7" cy="99.7" rx="6.6" ry="3.9" transform="rotate(104 154.7 99.7)" fill="#ffe640" opacity="0.95"/>
<ellipse cx="142.8" cy="193.2" rx="8.1" ry="4.7" transform="rotate(94 142.8 193.2)" fill="#ffe640" opacity="0.95"/>
<ellipse cx="80.7" cy="281.4" rx="7.1" ry="4.2" transform="rotate(159 80.7 281.4)" fill="#ffe640" opacity="0.95"/>
<ellipse cx="230.5" cy="17.5" rx="6.4" ry="3.8" transform="rotate(66 230.5 17.5)" fill="#ffe640" opacity="0.95"/>
<ellipse cx="237.7" cy="33.1" rx="6.8" ry="4.0" transform="rotate(62 237.7 33.1)" fill="#ffe640" opacity="0.95"/>
<ellipse cx="295.5" cy="92.7" rx="7.0" ry="4.1" transform="rotate(27 295.5 92.7)" fill="#ffe640" opacity="0.95"/>
<ellipse cx="362.9" cy="103.2" rx="4.7" ry="2.8" transform="rotate(3 362.9 103.2)" fill="#ffe640" opacity="0.95"/>
</g>
</g>
<text class="lf" x="3.1" y="7.3">(c1)</text>
<text class="tk" x="-0.9" y="10.7" text-anchor="end">100</text>
<text class="tk" x="-0.9" y="19.5" text-anchor="end">200</text>
<text class="tk" x="-0.9" y="28.3" text-anchor="end">300</text>
<text class="tk" x="-0.9" y="37.1" text-anchor="end">400</text>
<text class="tk" x="-0.9" y="45.8" text-anchor="end">500</text>
<text class="tk" x="-0.9" y="54.6" text-anchor="end">600</text>
<text class="tk" x="-0.9" y="63.4" text-anchor="end">700</text>
<text class="tk" x="-0.9" y="72.2" text-anchor="end">800</text>
<text class="tk" x="-0.9" y="81.0" text-anchor="end">900</text>
<text class="tk" x="-0.9" y="89.8" text-anchor="end">1000</text>
<text class="tk" x="17.7" y="95.0" text-anchor="middle">200</text>
<text class="tk" x="35.3" y="95.0" text-anchor="middle">400</text>
<text class="tk" x="53.0" y="95.0" text-anchor="middle">600</text>
<text class="tk" x="70.6" y="95.0" text-anchor="middle">800</text>
<text class="tk" x="88.3" y="95.0" text-anchor="middle">1000</text>
<rect x="94.9" y="0" width="4.2" height="90.0" fill="url(#hot)" stroke="#8a8a8a" stroke-width="0.25"/>
<text class="tk" x="100.4" y="91.6">0</text>
<text class="tk" x="100.4" y="78.0">2</text>
<text class="tk" x="100.4" y="64.3">4</text>
<text class="tk" x="100.4" y="50.7">6</text>
<text class="tk" x="100.4" y="37.1">8</text>
<text class="tk" x="100.4" y="23.4">10</text>
<text class="tk" x="100.4" y="9.8">12</text>
<text class="cl" transform="translate(108.3 46.0) rotate(-90)" text-anchor="middle">Unwrapped Phase (Rad.)</text>
</g>
<g transform="translate(302.0 132.0)">
<g clip-path="url(#cd)">
<rect width="90.4" height="90.0" filter="url(#nz)"/>
<g filter="url(#bl)" opacity="0.40"><rect x="-10" y="-10" width="110.4" height="110.0" fill="url(#st)"/></g>
<g transform="rotate(30 45 45)" opacity="0.38"><rect x="-30" y="-30" width="150" height="150" filter="url(#sw)"/></g>
<rect width="90.4" height="90.0" fill="url(#tl)" opacity="1"/>
<rect width="90.4" height="90.0" fill="url(#le)"/>
<rect width="90.4" height="90.0" fill="url(#bc)"/>
<g transform="scale(0.24236 0.24129)" fill="none" stroke-linecap="round" stroke-linejoin="round">
<path d="M192.0 -6.0C190.3 0.8 185.3 21.5 182.0 35.0C178.7 48.5 175.2 61.7 172.0 75.0C168.8 88.3 165.5 102.5 163.0 115.0C160.5 127.5 158.3 140.8 157.0 150.0C155.7 159.2 155.0 162.5 155.0 170.0C155.0 177.5 156.7 186.0 157.0 195.0C157.3 204.0 158.5 214.2 157.0 224.0C155.5 233.8 153.0 245.5 148.0 254.0C143.0 262.5 137.2 268.8 127.0 275.0C116.8 281.2 101.5 286.3 87.0 291.0C72.5 295.7 47.8 301.0 40.0 303.0" stroke="#fff07a" stroke-width="21.5"/>
<path d="M192.0 -6.0C190.3 0.8 185.3 21.5 182.0 35.0C178.7 48.5 175.2 61.7 172.0 75.0C168.8 88.3 165.5 102.5 163.0 115.0C160.5 127.5 158.3 140.8 157.0 150.0C155.7 159.2 155.0 162.5 155.0 170.0C155.0 177.5 156.7 186.0 157.0 195.0C157.3 204.0 158.5 214.2 157.0 224.0C155.5 233.8 153.0 245.5 148.0 254.0C143.0 262.5 137.2 268.8 127.0 275.0C116.8 281.2 101.5 286.3 87.0 291.0C72.5 295.7 47.8 301.0 40.0 303.0" stroke="#ffe022" stroke-width="16.5"/>
<path d="M192.0 -6.0C190.3 0.8 185.3 21.5 182.0 35.0C178.7 48.5 175.2 61.7 172.0 75.0C168.8 88.3 165.5 102.5 163.0 115.0C160.5 127.5 158.3 140.8 157.0 150.0C155.7 159.2 155.0 162.5 155.0 170.0C155.0 177.5 156.7 186.0 157.0 195.0C157.3 204.0 158.5 214.2 157.0 224.0C155.5 233.8 153.0 245.5 148.0 254.0C143.0 262.5 137.2 268.8 127.0 275.0C116.8 281.2 101.5 286.3 87.0 291.0C72.5 295.7 47.8 301.0 40.0 303.0" stroke="#ffea50" stroke-width="6" opacity="0.6"/>
<path d="M208.0 -6.0C212.0 0.0 225.3 19.8 232.0 30.0C238.7 40.2 242.0 47.0 248.0 55.0C254.0 63.0 259.7 71.8 268.0 78.0C276.3 84.2 286.8 88.7 298.0 92.0C309.2 95.3 321.3 96.7 335.0 98.0C348.7 99.3 372.5 99.7 380.0 100.0" stroke="#fff07a" stroke-width="21.5"/>
<path d="M208.0 -6.0C212.0 0.0 225.3 19.8 232.0 30.0C238.7 40.2 242.0 47.0 248.0 55.0C254.0 63.0 259.7 71.8 268.0 78.0C276.3 84.2 286.8 88.7 298.0 92.0C309.2 95.3 321.3 96.7 335.0 98.0C348.7 99.3 372.5 99.7 380.0 100.0" stroke="#ffe022" stroke-width="16.5"/>
<path d="M208.0 -6.0C212.0 0.0 225.3 19.8 232.0 30.0C238.7 40.2 242.0 47.0 248.0 55.0C254.0 63.0 259.7 71.8 268.0 78.0C276.3 84.2 286.8 88.7 298.0 92.0C309.2 95.3 321.3 96.7 335.0 98.0C348.7 99.3 372.5 99.7 380.0 100.0" stroke="#ffea50" stroke-width="6" opacity="0.6"/>
<ellipse cx="184.4" cy="32.7" rx="7.0" ry="3.5" transform="rotate(104 184.4 32.7)" fill="#3a0404" stroke="#d8240a" stroke-width="2"/>
<ellipse cx="177.5" cy="57.4" rx="5.4" ry="2.7" transform="rotate(104 177.5 57.4)" fill="#3a0404" stroke="#d8240a" stroke-width="2"/>
<ellipse cx="168.4" cy="84.7" rx="4.4" ry="2.2" transform="rotate(103 168.4 84.7)" fill="#3a0404" stroke="#d8240a" stroke-width="2"/>
<ellipse cx="162.3" cy="109.4" rx="4.7" ry="2.3" transform="rotate(103 162.3 109.4)" fill="#3a0404" stroke="#d8240a" stroke-width="2"/>
<ellipse cx="156.4" cy="200.8" rx="4.2" ry="2.1" transform="rotate(90 156.4 200.8)" fill="#3a0404" stroke="#d8240a" stroke-width="2"/>
<ellipse cx="90.8" cy="287.3" rx="5.3" ry="2.7" transform="rotate(158 90.8 287.3)" fill="#3a0404" stroke="#d8240a" stroke-width="2"/>
<ellipse cx="75.6" cy="294.9" rx="6.1" ry="3.1" transform="rotate(166 75.6 294.9)" fill="#3a0404" stroke="#d8240a" stroke-width="2"/>
<ellipse cx="209.0" cy="-3.3" rx="5.3" ry="2.6" transform="rotate(56 209.0 -3.3)" fill="#3a0404" stroke="#d8240a" stroke-width="2"/>
<ellipse cx="226.9" cy="21.7" rx="6.9" ry="3.4" transform="rotate(56 226.9 21.7)" fill="#3a0404" stroke="#d8240a" stroke-width="2"/>
<ellipse cx="287.4" cy="86.0" rx="5.7" ry="2.9" transform="rotate(25 287.4 86.0)" fill="#3a0404" stroke="#d8240a" stroke-width="2"/>
<ellipse cx="363.0" cy="97.7" rx="5.3" ry="2.6" transform="rotate(3 363.0 97.7)" fill="#3a0404" stroke="#d8240a" stroke-width="2"/>
</g>
</g>
<text class="lf" x="3.1" y="7.3">(d)</text>
<text class="tk" x="-0.9" y="10.7" text-anchor="end">100</text>
<text class="tk" x="-0.9" y="19.5" text-anchor="end">200</text>
<text class="tk" x="-0.9" y="28.3" text-anchor="end">300</text>
<text class="tk" x="-0.9" y="37.1" text-anchor="end">400</text>
<text class="tk" x="-0.9" y="45.8" text-anchor="end">500</text>
<text class="tk" x="-0.9" y="54.6" text-anchor="end">600</text>
<text class="tk" x="-0.9" y="63.4" text-anchor="end">700</text>
<text class="tk" x="-0.9" y="72.2" text-anchor="end">800</text>
<text class="tk" x="-0.9" y="81.0" text-anchor="end">900</text>
<text class="tk" x="-0.9" y="89.8" text-anchor="end">1000</text>
<text class="tk" x="17.7" y="95.0" text-anchor="middle">200</text>
<text class="tk" x="35.3" y="95.0" text-anchor="middle">400</text>
<text class="tk" x="53.0" y="95.0" text-anchor="middle">600</text>
<text class="tk" x="70.6" y="95.0" text-anchor="middle">800</text>
<text class="tk" x="88.3" y="95.0" text-anchor="middle">1000</text>
<rect x="94.9" y="0" width="4.2" height="90.0" fill="url(#hot)" stroke="#8a8a8a" stroke-width="0.25"/>
<text class="tk" x="100.4" y="89.6">-3</text>
<text class="tk" x="100.4" y="75.2">-2</text>
<text class="tk" x="100.4" y="60.9">-1</text>
<text class="tk" x="100.4" y="46.6">0</text>
<text class="tk" x="100.4" y="32.3">1</text>
<text class="tk" x="100.4" y="18.0">2</text>
<text class="tk" x="100.4" y="3.6">3</text>
<text class="cl" transform="translate(108.3 46.0) rotate(-90)" text-anchor="middle">Wrapped Phase (Rad.)</text>
</g>
<g transform="translate(437.1 132.0)">
<g clip-path="url(#cd1)">
<rect width="90.4" height="90.0" fill="#fe1400"/>
<g filter="url(#bl)" opacity="0.07"><rect x="-10" y="-10" width="110.4" height="110.0" fill="url(#st)"/></g>
<g transform="rotate(30 45 45)" opacity="0.09"><rect x="-30" y="-30" width="150" height="150" filter="url(#sw)"/></g>
<rect width="90.4" height="90.0" fill="url(#gd1)"/>
<g transform="scale(0.24236 0.24129)" fill="none" stroke-linecap="round" stroke-linejoin="round">
<path d="M192.0 -6.0C190.3 0.8 185.3 21.5 182.0 35.0C178.7 48.5 175.2 61.7 172.0 75.0C168.8 88.3 165.5 102.5 163.0 115.0C160.5 127.5 158.3 140.8 157.0 150.0C155.7 159.2 155.0 162.5 155.0 170.0C155.0 177.5 156.7 186.0 157.0 195.0C157.3 204.0 158.5 214.2 157.0 224.0C155.5 233.8 153.0 245.5 148.0 254.0C143.0 262.5 137.2 268.8 127.0 275.0C116.8 281.2 101.5 286.3 87.0 291.0C72.5 295.7 47.8 301.0 40.0 303.0" stroke="#ff7a13" stroke-width="20.5" opacity="0.95"/>
<path d="M192.0 -6.0C190.3 0.8 185.3 21.5 182.0 35.0C178.7 48.5 175.2 61.7 172.0 75.0C168.8 88.3 165.5 102.5 163.0 115.0C160.5 127.5 158.3 140.8 157.0 150.0C155.7 159.2 155.0 162.5 155.0 170.0C155.0 177.5 156.7 186.0 157.0 195.0C157.3 204.0 158.5 214.2 157.0 224.0C155.5 233.8 153.0 245.5 148.0 254.0C143.0 262.5 137.2 268.8 127.0 275.0C116.8 281.2 101.5 286.3 87.0 291.0C72.5 295.7 47.8 301.0 40.0 303.0" stroke="#ff4c08" stroke-width="14"/>
<path d="M208.0 -6.0C212.0 0.0 225.3 19.8 232.0 30.0C238.7 40.2 242.0 47.0 248.0 55.0C254.0 63.0 259.7 71.8 268.0 78.0C276.3 84.2 286.8 88.7 298.0 92.0C309.2 95.3 321.3 96.7 335.0 98.0C348.7 99.3 372.5 99.7 380.0 100.0" stroke="#ff7a13" stroke-width="20.5" opacity="0.95"/>
<path d="M208.0 -6.0C212.0 0.0 225.3 19.8 232.0 30.0C238.7 40.2 242.0 47.0 248.0 55.0C254.0 63.0 259.7 71.8 268.0 78.0C276.3 84.2 286.8 88.7 298.0 92.0C309.2 95.3 321.3 96.7 335.0 98.0C348.7 99.3 372.5 99.7 380.0 100.0" stroke="#ff4c08" stroke-width="14"/>
<ellipse cx="182.8" cy="31.6" rx="5.5" ry="3.2" transform="rotate(104 182.8 31.6)" fill="#ffe640" opacity="0.95"/>
<ellipse cx="176.3" cy="57.8" rx="7.6" ry="4.5" transform="rotate(104 176.3 57.8)" fill="#ffe640" opacity="0.95"/>
<ellipse cx="164.0" cy="110.6" rx="5.1" ry="3.0" transform="rotate(103 164.0 110.6)" fill="#ffe640" opacity="0.95"/>
<ellipse cx="157.0" cy="202.6" rx="4.6" ry="2.7" transform="rotate(90 157.0 202.6)" fill="#ffe640" opacity="0.95"/>
<ellipse cx="92.2" cy="288.9" rx="8.1" ry="4.7" transform="rotate(158 92.2 288.9)" fill="#ffe640" opacity="0.95"/>
<ellipse cx="227.4" cy="23.2" rx="6.5" ry="3.8" transform="rotate(56 227.4 23.2)" fill="#ffe640" opacity="0.95"/>
<ellipse cx="285.4" cy="86.1" rx="5.0" ry="3.0" transform="rotate(25 285.4 86.1)" fill="#ffe640" opacity="0.95"/>
<ellipse cx="364.7" cy="99.3" rx="6.5" ry="3.8" transform="rotate(3 364.7 99.3)" fill="#ffe640" opacity="0.95"/>
</g>
</g>
<text class="lf" x="3.1" y="7.3">(d1)</text>
<text class="tk" x="-0.9" y="10.7" text-anchor="end">100</text>
<text class="tk" x="-0.9" y="19.5" text-anchor="end">200</text>
<text class="tk" x="-0.9" y="28.3" text-anchor="end">300</text>
<text class="tk" x="-0.9" y="37.1" text-anchor="end">400</text>
<text class="tk" x="-0.9" y="45.8" text-anchor="end">500</text>
<text class="tk" x="-0.9" y="54.6" text-anchor="end">600</text>
<text class="tk" x="-0.9" y="63.4" text-anchor="end">700</text>
<text class="tk" x="-0.9" y="72.2" text-anchor="end">800</text>
<text class="tk" x="-0.9" y="81.0" text-anchor="end">900</text>
<text class="tk" x="-0.9" y="89.8" text-anchor="end">1000</text>
<text class="tk" x="17.7" y="95.0" text-anchor="middle">200</text>
<text class="tk" x="35.3" y="95.0" text-anchor="middle">400</text>
<text class="tk" x="53.0" y="95.0" text-anchor="middle">600</text>
<text class="tk" x="70.6" y="95.0" text-anchor="middle">800</text>
<text class="tk" x="88.3" y="95.0" text-anchor="middle">1000</text>
<rect x="94.9" y="0" width="4.2" height="90.0" fill="url(#hot)" stroke="#8a8a8a" stroke-width="0.25"/>
<text class="tk" x="100.4" y="91.6">0</text>
<text class="tk" x="100.4" y="77.2">2</text>
<text class="tk" x="100.4" y="62.8">4</text>
<text class="tk" x="100.4" y="48.4">6</text>
<text class="tk" x="100.4" y="34.0">8</text>
<text class="tk" x="100.4" y="19.6">10</text>
<text class="tk" x="100.4" y="5.2">12</text>
<text class="cl" transform="translate(108.3 46.0) rotate(-90)" text-anchor="middle">Unwrapped Phase (Rad.)</text>
</g>
<g transform="translate(157.1 261.0)">
<g clip-path="url(#ce)">
<rect width="90.4" height="90.0" filter="url(#nz)"/>
<g filter="url(#bl)" opacity="0.40"><rect x="-10" y="-10" width="110.4" height="110.0" fill="url(#st)"/></g>
<g transform="rotate(30 45 45)" opacity="0.38"><rect x="-30" y="-30" width="150" height="150" filter="url(#sw)"/></g>
<rect width="90.4" height="90.0" fill="url(#tl)" opacity="1"/>
<rect width="90.4" height="90.0" fill="url(#le)"/>
<rect width="90.4" height="90.0" fill="url(#bc)"/>
<g transform="scale(0.24236 0.24129)" fill="none" stroke-linecap="round" stroke-linejoin="round">
<path d="M196.0 -6.0C195.0 0.8 191.8 21.5 190.0 35.0C188.2 48.5 186.7 61.7 185.0 75.0C183.3 88.3 181.5 102.5 180.0 115.0C178.5 127.5 177.2 138.3 176.0 150.0C174.8 161.7 173.7 175.0 173.0 185.0C172.3 195.0 172.5 201.7 172.0 210.0C171.5 218.3 172.0 226.5 170.0 235.0C168.0 243.5 165.5 253.3 160.0 261.0C154.5 268.7 148.2 275.3 137.0 281.0C125.8 286.7 108.7 290.8 93.0 295.0C77.3 299.2 51.3 304.2 43.0 306.0" stroke="#fff07a" stroke-width="21.5"/>
<path d="M196.0 -6.0C195.0 0.8 191.8 21.5 190.0 35.0C188.2 48.5 186.7 61.7 185.0 75.0C183.3 88.3 181.5 102.5 180.0 115.0C178.5 127.5 177.2 138.3 176.0 150.0C174.8 161.7 173.7 175.0 173.0 185.0C172.3 195.0 172.5 201.7 172.0 210.0C171.5 218.3 172.0 226.5 170.0 235.0C168.0 243.5 165.5 253.3 160.0 261.0C154.5 268.7 148.2 275.3 137.0 281.0C125.8 286.7 108.7 290.8 93.0 295.0C77.3 299.2 51.3 304.2 43.0 306.0" stroke="#ffe022" stroke-width="16.5"/>
<path d="M196.0 -6.0C195.0 0.8 191.8 21.5 190.0 35.0C188.2 48.5 186.7 61.7 185.0 75.0C183.3 88.3 181.5 102.5 180.0 115.0C178.5 127.5 177.2 138.3 176.0 150.0C174.8 161.7 173.7 175.0 173.0 185.0C172.3 195.0 172.5 201.7 172.0 210.0C171.5 218.3 172.0 226.5 170.0 235.0C168.0 243.5 165.5 253.3 160.0 261.0C154.5 268.7 148.2 275.3 137.0 281.0C125.8 286.7 108.7 290.8 93.0 295.0C77.3 299.2 51.3 304.2 43.0 306.0" stroke="#ffea50" stroke-width="6" opacity="0.6"/>
<path d="M198.0 2.0C199.3 4.5 200.5 10.7 206.0 17.0C211.5 23.3 222.3 31.7 231.0 40.0C239.7 48.3 249.0 59.5 258.0 67.0C267.0 74.5 275.0 80.7 285.0 85.0C295.0 89.3 302.2 91.5 318.0 93.0C333.8 94.5 369.7 93.8 380.0 94.0" stroke="#fff07a" stroke-width="21.5"/>
<path d="M198.0 2.0C199.3 4.5 200.5 10.7 206.0 17.0C211.5 23.3 222.3 31.7 231.0 40.0C239.7 48.3 249.0 59.5 258.0 67.0C267.0 74.5 275.0 80.7 285.0 85.0C295.0 89.3 302.2 91.5 318.0 93.0C333.8 94.5 369.7 93.8 380.0 94.0" stroke="#ffe022" stroke-width="16.5"/>
<path d="M198.0 2.0C199.3 4.5 200.5 10.7 206.0 17.0C211.5 23.3 222.3 31.7 231.0 40.0C239.7 48.3 249.0 59.5 258.0 67.0C267.0 74.5 275.0 80.7 285.0 85.0C295.0 89.3 302.2 91.5 318.0 93.0C333.8 94.5 369.7 93.8 380.0 94.0" stroke="#ffea50" stroke-width="6" opacity="0.6"/>
<ellipse cx="188.3" cy="33.5" rx="7.3" ry="3.6" transform="rotate(98 188.3 33.5)" fill="#3a0404" stroke="#d8240a" stroke-width="2"/>
<ellipse cx="188.2" cy="61.8" rx="5.0" ry="2.5" transform="rotate(97 188.2 61.8)" fill="#3a0404" stroke="#d8240a" stroke-width="2"/>
<ellipse cx="182.8" cy="87.4" rx="6.6" ry="3.3" transform="rotate(97 182.8 87.4)" fill="#3a0404" stroke="#d8240a" stroke-width="2"/>
<ellipse cx="180.0" cy="117.5" rx="5.2" ry="2.6" transform="rotate(97 180.0 117.5)" fill="#3a0404" stroke="#d8240a" stroke-width="2"/>
<ellipse cx="171.1" cy="204.9" rx="7.3" ry="3.7" transform="rotate(92 171.1 204.9)" fill="#3a0404" stroke="#d8240a" stroke-width="2"/>
<ellipse cx="173.0" cy="216.8" rx="6.8" ry="3.4" transform="rotate(95 173.0 216.8)" fill="#3a0404" stroke="#d8240a" stroke-width="2"/>
<ellipse cx="98.3" cy="292.5" rx="5.8" ry="2.9" transform="rotate(162 98.3 292.5)" fill="#3a0404" stroke="#d8240a" stroke-width="2"/>
<ellipse cx="81.3" cy="295.6" rx="4.2" ry="2.1" transform="rotate(168 81.3 295.6)" fill="#3a0404" stroke="#d8240a" stroke-width="2"/>
<ellipse cx="199.2" cy="4.9" rx="6.4" ry="3.2" transform="rotate(62 199.2 4.9)" fill="#3a0404" stroke="#d8240a" stroke-width="2"/>
<ellipse cx="227.3" cy="34.7" rx="7.2" ry="3.6" transform="rotate(43 227.3 34.7)" fill="#3a0404" stroke="#d8240a" stroke-width="2"/>
<ellipse cx="287.2" cy="86.9" rx="5.3" ry="2.7" transform="rotate(14 287.2 86.9)" fill="#3a0404" stroke="#d8240a" stroke-width="2"/>
<ellipse cx="368.0" cy="92.7" rx="4.8" ry="2.4" transform="rotate(1 368.0 92.7)" fill="#3a0404" stroke="#d8240a" stroke-width="2"/>
</g>
</g>
<text class="lf" x="3.1" y="7.3">(e)</text>
<text class="tk" x="-0.9" y="10.7" text-anchor="end">100</text>
<text class="tk" x="-0.9" y="19.5" text-anchor="end">200</text>
<text class="tk" x="-0.9" y="28.3" text-anchor="end">300</text>
<text class="tk" x="-0.9" y="37.1" text-anchor="end">400</text>
<text class="tk" x="-0.9" y="45.8" text-anchor="end">500</text>
<text class="tk" x="-0.9" y="54.6" text-anchor="end">600</text>
<text class="tk" x="-0.9" y="63.4" text-anchor="end">700</text>
<text class="tk" x="-0.9" y="72.2" text-anchor="end">800</text>
<text class="tk" x="-0.9" y="81.0" text-anchor="end">900</text>
<text class="tk" x="-0.9" y="89.8" text-anchor="end">1000</text>
<text class="tk" x="17.7" y="95.0" text-anchor="middle">200</text>
<text class="tk" x="35.3" y="95.0" text-anchor="middle">400</text>
<text class="tk" x="53.0" y="95.0" text-anchor="middle">600</text>
<text class="tk" x="70.6" y="95.0" text-anchor="middle">800</text>
<text class="tk" x="88.3" y="95.0" text-anchor="middle">1000</text>
<rect x="94.9" y="0" width="4.2" height="90.0" fill="url(#hot)" stroke="#8a8a8a" stroke-width="0.25"/>
<text class="tk" x="100.4" y="89.6">-3</text>
<text class="tk" x="100.4" y="75.2">-2</text>
<text class="tk" x="100.4" y="60.9">-1</text>
<text class="tk" x="100.4" y="46.6">0</text>
<text class="tk" x="100.4" y="32.3">1</text>
<text class="tk" x="100.4" y="18.0">2</text>
<text class="tk" x="100.4" y="3.6">3</text>
<text class="cl" transform="translate(108.3 46.0) rotate(-90)" text-anchor="middle">Wrapped Phase (Rad.)</text>
</g>
<g transform="translate(292.2 261.0)">
<g clip-path="url(#ce1)">
<rect width="90.4" height="90.0" fill="#ff4800"/>
<g filter="url(#bl)" opacity="0.07"><rect x="-10" y="-10" width="110.4" height="110.0" fill="url(#st)"/></g>
<g transform="rotate(30 45 45)" opacity="0.09"><rect x="-30" y="-30" width="150" height="150" filter="url(#sw)"/></g>
<rect width="90.4" height="90.0" fill="url(#ge1)"/>
<g transform="scale(0.24236 0.24129)" fill="none" stroke-linecap="round" stroke-linejoin="round">
<path d="M196.0 -6.0C195.0 0.8 191.8 21.5 190.0 35.0C188.2 48.5 186.7 61.7 185.0 75.0C183.3 88.3 181.5 102.5 180.0 115.0C178.5 127.5 177.2 138.3 176.0 150.0C174.8 161.7 173.7 175.0 173.0 185.0C172.3 195.0 172.5 201.7 172.0 210.0C171.5 218.3 172.0 226.5 170.0 235.0C168.0 243.5 165.5 253.3 160.0 261.0C154.5 268.7 148.2 275.3 137.0 281.0C125.8 286.7 108.7 290.8 93.0 295.0C77.3 299.2 51.3 304.2 43.0 306.0" stroke="#ffaf25" stroke-width="20.5" opacity="0.95"/>
<path d="M196.0 -6.0C195.0 0.8 191.8 21.5 190.0 35.0C188.2 48.5 186.7 61.7 185.0 75.0C183.3 88.3 181.5 102.5 180.0 115.0C178.5 127.5 177.2 138.3 176.0 150.0C174.8 161.7 173.7 175.0 173.0 185.0C172.3 195.0 172.5 201.7 172.0 210.0C171.5 218.3 172.0 226.5 170.0 235.0C168.0 243.5 165.5 253.3 160.0 261.0C154.5 268.7 148.2 275.3 137.0 281.0C125.8 286.7 108.7 290.8 93.0 295.0C77.3 299.2 51.3 304.2 43.0 306.0" stroke="#ff8714" stroke-width="14"/>
<path d="M198.0 2.0C199.3 4.5 200.5 10.7 206.0 17.0C211.5 23.3 222.3 31.7 231.0 40.0C239.7 48.3 249.0 59.5 258.0 67.0C267.0 74.5 275.0 80.7 285.0 85.0C295.0 89.3 302.2 91.5 318.0 93.0C333.8 94.5 369.7 93.8 380.0 94.0" stroke="#ffaf25" stroke-width="20.5" opacity="0.95"/>
<path d="M198.0 2.0C199.3 4.5 200.5 10.7 206.0 17.0C211.5 23.3 222.3 31.7 231.0 40.0C239.7 48.3 249.0 59.5 258.0 67.0C267.0 74.5 275.0 80.7 285.0 85.0C295.0 89.3 302.2 91.5 318.0 93.0C333.8 94.5 369.7 93.8 380.0 94.0" stroke="#ff8714" stroke-width="14"/>
<ellipse cx="190.2" cy="33.4" rx="6.3" ry="3.7" transform="rotate(98 190.2 33.4)" fill="#ffe640" opacity="0.95"/>
<ellipse cx="186.7" cy="61.1" rx="8.2" ry="4.8" transform="rotate(97 186.7 61.1)" fill="#ffe640" opacity="0.95"/>
<ellipse cx="179.8" cy="116.4" rx="9.5" ry="5.5" transform="rotate(97 179.8 116.4)" fill="#ffe640" opacity="0.95"/>
<ellipse cx="175.8" cy="152.0" rx="9.2" ry="5.4" transform="rotate(95 175.8 152.0)" fill="#ffe640" opacity="0.95"/>
<ellipse cx="171.9" cy="211.6" rx="7.6" ry="4.4" transform="rotate(95 171.9 211.6)" fill="#ffe640" opacity="0.95"/>
<ellipse cx="97.3" cy="293.6" rx="8.3" ry="4.9" transform="rotate(162 97.3 293.6)" fill="#ffe640" opacity="0.95"/>
<ellipse cx="219.1" cy="29.1" rx="9.0" ry="5.3" transform="rotate(43 219.1 29.1)" fill="#ffe640" opacity="0.95"/>
<ellipse cx="241.1" cy="50.1" rx="5.8" ry="3.4" transform="rotate(45 241.1 50.1)" fill="#ffe640" opacity="0.95"/>
<ellipse cx="285.2" cy="85.1" rx="8.4" ry="4.9" transform="rotate(14 285.2 85.1)" fill="#ffe640" opacity="0.95"/>
</g>
</g>
<text class="lf" x="3.1" y="7.3">(e1)</text>
<text class="tk" x="-0.9" y="10.7" text-anchor="end">100</text>
<text class="tk" x="-0.9" y="19.5" text-anchor="end">200</text>
<text class="tk" x="-0.9" y="28.3" text-anchor="end">300</text>
<text class="tk" x="-0.9" y="37.1" text-anchor="end">400</text>
<text class="tk" x="-0.9" y="45.8" text-anchor="end">500</text>
<text class="tk" x="-0.9" y="54.6" text-anchor="end">600</text>
<text class="tk" x="-0.9" y="63.4" text-anchor="end">700</text>
<text class="tk" x="-0.9" y="72.2" text-anchor="end">800</text>
<text class="tk" x="-0.9" y="81.0" text-anchor="end">900</text>
<text class="tk" x="-0.9" y="89.8" text-anchor="end">1000</text>
<text class="tk" x="17.7" y="95.0" text-anchor="middle">200</text>
<text class="tk" x="35.3" y="95.0" text-anchor="middle">400</text>
<text class="tk" x="53.0" y="95.0" text-anchor="middle">600</text>
<text class="tk" x="70.6" y="95.0" text-anchor="middle">800</text>
<text class="tk" x="88.3" y="95.0" text-anchor="middle">1000</text>
<rect x="94.9" y="0" width="4.2" height="90.0" fill="url(#hot)" stroke="#8a8a8a" stroke-width="0.25"/>
<text class="tk" x="100.4" y="91.6">0</text>
<text class="tk" x="100.4" y="78.7">2</text>
<text class="tk" x="100.4" y="65.9">4</text>
<text class="tk" x="100.4" y="53.0">6</text>
<text class="tk" x="100.4" y="40.2">8</text>
<text class="tk" x="100.4" y="27.3">10</text>
<text class="tk" x="100.4" y="14.5">12</text>
<text class="tk" x="100.4" y="1.6">14</text>
<text class="cl" transform="translate(108.3 46.0) rotate(-90)" text-anchor="middle">Unwrapped Phase (Rad.)</text>
</g>
<text class="cap" x="126.0" y="110.8" text-anchor="middle">t = 0 min</text>
<text class="cap" x="417.6" y="110.8" text-anchor="middle">t = 50 min</text>
<text class="cap" x="129.7" y="238.7" text-anchor="middle">t = 100 min</text>
<text class="cap" x="419.5" y="238.7" text-anchor="middle">t = 150 min</text>
<text class="cap" x="270.5" y="367.5" text-anchor="middle">t = 200 min</text>
</svg>
</body></html>
